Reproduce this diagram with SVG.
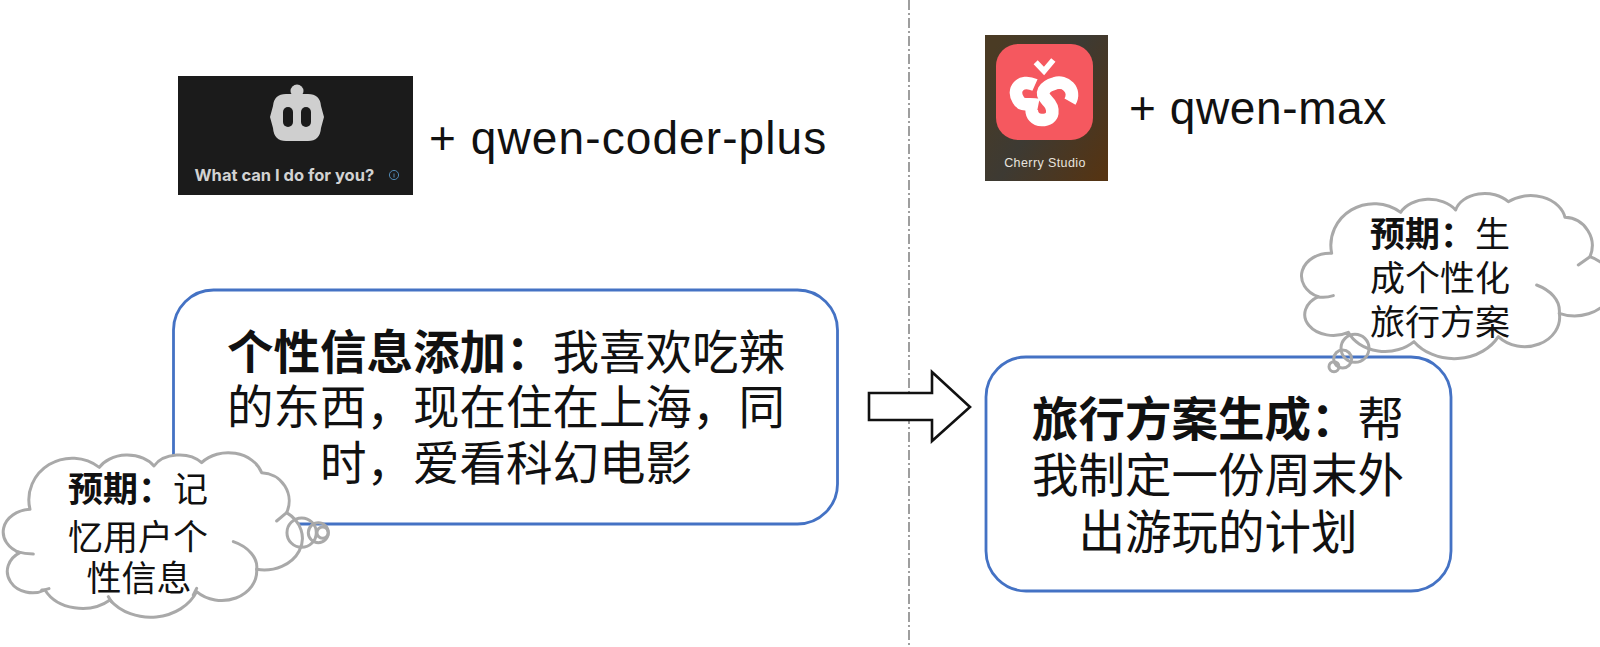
<svg xmlns="http://www.w3.org/2000/svg" width="1600" height="647" viewBox="0 0 1600 647">
<style>
.main{font-family:"Noto Sans CJK SC","Liberation Sans",sans-serif;font-size:46.5px;fill:#111;text-anchor:middle}
.note{font-family:"Noto Sans CJK SC","Liberation Sans",sans-serif;font-size:35px;fill:#111;text-anchor:middle}
.b{font-weight:700}
.box{fill:#fff;stroke:#4472c4;stroke-width:2.8}
.cl{fill:#fff;stroke:#a9a9a9;stroke-width:9;stroke-linejoin:round;stroke-linecap:round}
.in{fill:none}
.model{font-family:"Liberation Sans",sans-serif;font-size:46px;fill:#111;letter-spacing:1.1px}
</style>
<defs>
<linearGradient id="cherrybg" x1="0" y1="0.2" x2="1" y2="0.9"><stop offset="0" stop-color="#4a3b24"/><stop offset="0.45" stop-color="#3d3a33"/><stop offset="1" stop-color="#553413"/></linearGradient>
</defs>
<g id="connectors">
<line x1="909" y1="0" x2="909" y2="647" stroke="#7f7f7f" stroke-width="1.5" stroke-dasharray="10 3 2 3"/>
<path d="M869 393H932V372L970 407L932 441V420H869Z" fill="#fff" stroke="#111" stroke-width="2.6"/>
</g>
<g id="logo-left">
<rect x="178" y="76" width="235" height="119" fill="#1b1b1b"/>
<circle cx="297" cy="91" r="6.500" fill="#cfcfcf"/>
<path d="M286 94H308Q320 94 321 106L324 117L321 128Q320 141 308 141H286Q274 141 273 128L270 117L273 106Q274 94 286 94Z" fill="#cfcfcf"/>
<rect x="283" y="107" width="10" height="20" rx="5" fill="#1b1b1b"/>
<rect x="301" y="107" width="10" height="20" rx="5" fill="#1b1b1b"/>
<text x="194.500" y="180.500" font-family="Inter,'Liberation Sans',sans-serif" font-weight="700" font-size="16.500px" fill="#d2d2d2">What can I do for you?</text>
<circle cx="394" cy="175" r="4.600" fill="none" stroke="#4f86b0" stroke-width="1"/>
<line x1="394" y1="173.500" x2="394" y2="177.500" stroke="#4f86b0" stroke-width="1"/>
</g>
<g id="label-left"><text class="model" x="429" y="154">+ qwen-coder-plus</text></g>
<g id="logo-right">
<rect x="985" y="35" width="123" height="146" fill="url(#cherrybg)"/>
<rect x="996" y="44" width="97" height="96" rx="22" fill="#f5585f"/>
<g transform="translate(970 25) scale(.3333)" fill="none" stroke="#fff">
<path d="M197 112L222 138L250 105" stroke-width="17"/>
<path d="M195 180C150 160 125 195 145 225C155 245 180 235 205 240" stroke-width="38"/>
<path d="M300 230C320 195 285 165 255 175C220 185 210 205 230 225C255 250 255 285 215 285C195 285 185 270 185 255" stroke-width="38"/>
<circle cx="270" cy="205" r="12" fill="#f5585f" stroke="none"/>
</g>
<text x="1045" y="167" text-anchor="middle" font-family="'Liberation Sans',sans-serif" font-size="12.500px" letter-spacing="0.4" fill="#e8e4df">Cherry Studio</text>
</g>
<g id="label-right"><text class="model" x="1129" y="124" style="letter-spacing:.6px">+ qwen-max</text></g>
<g id="box-left">
<rect class="box" x="173.500" y="290" width="664" height="234" rx="40"/>
<text class="main" x="506" y="369"><tspan class="b">个性信息添加：</tspan>我喜欢吃辣</text>
<text class="main" x="506" y="424">的东西，现在住在上海，同</text>
<text class="main" x="506" y="480">时，爱看科幻电影</text>
</g>
<g id="box-right">
<rect class="box" x="986" y="357" width="465" height="234" rx="40"/>
<text class="main" x="1218" y="436"><tspan class="b">旅行方案生成：</tspan>帮</text>
<text class="main" x="1218" y="492">我制定一份周末外</text>
<text class="main" x="1218" y="549">出游玩的计划</text>
</g>
<g id="cloud-left">
<g transform="translate(0 440) scale(.3333)">
<path class="cl" d="M90 208A85 68 0 0 0 60 338A68 58 0 0 0 135 450A125 100 0 0 0 330 480A150 125 0 0 0 590 455A105 88 0 0 0 770 388A115 95 0 0 0 860 218A85 85 0 0 0 785 98A105 85 0 0 0 605 68A85 60 0 0 0 462 78A95 70 0 0 0 298 82A130 125 0 0 0 90 208Z"/>
<path class="cl in" d="M50 335Q75 342 100 342M700 305C745 320 775 355 770 388M125 450Q135 450 147 446M325 470L335 486M590 445L580 465M860 218L830 243"/>
<circle class="cl" cx="905" cy="278" r="44" style="fill:none"/>
<circle class="cl" cx="955" cy="278" r="30" style="fill:none"/>
<circle class="cl" cx="968" cy="278" r="17" style="fill:none"/>
</g>
<text class="note" x="138" y="502"><tspan class="b">预期：</tspan>记</text>
<text class="note" x="138" y="550">忆用户个</text>
<text class="note" x="139" y="591">性信息</text>
</g>
<g id="cloud-right">
<g transform="translate(1290 185) scale(.3333)">
<path class="cl" d="M125 205A85 68 0 0 0 85 335A75 55 0 0 0 175 442A120 95 0 0 0 372 470A150 125 0 0 0 625 455A105 88 0 0 0 808 385A105 85 0 0 0 900 215A85 85 0 0 0 825 97A105 80 0 0 0 655 50A90 65 0 0 0 497 75A95 70 0 0 0 332 82A130 125 0 0 0 125 205Z"/>
<path class="cl in" d="M80 335Q105 340 130 332M740 300C780 315 812 345 808 385M900 215L865 240"/>
<circle class="cl" cx="195" cy="490" r="42" style="fill:none"/>
<circle class="cl" cx="158" cy="522" r="27" style="fill:none"/>
<circle class="cl" cx="132" cy="545" r="15" style="fill:none"/>
</g>
<text class="note" x="1440" y="247"><tspan class="b">预期：</tspan>生</text>
<text class="note" x="1440" y="291">成个性化</text>
<text class="note" x="1440" y="335">旅行方案</text>
</g>
</svg>
